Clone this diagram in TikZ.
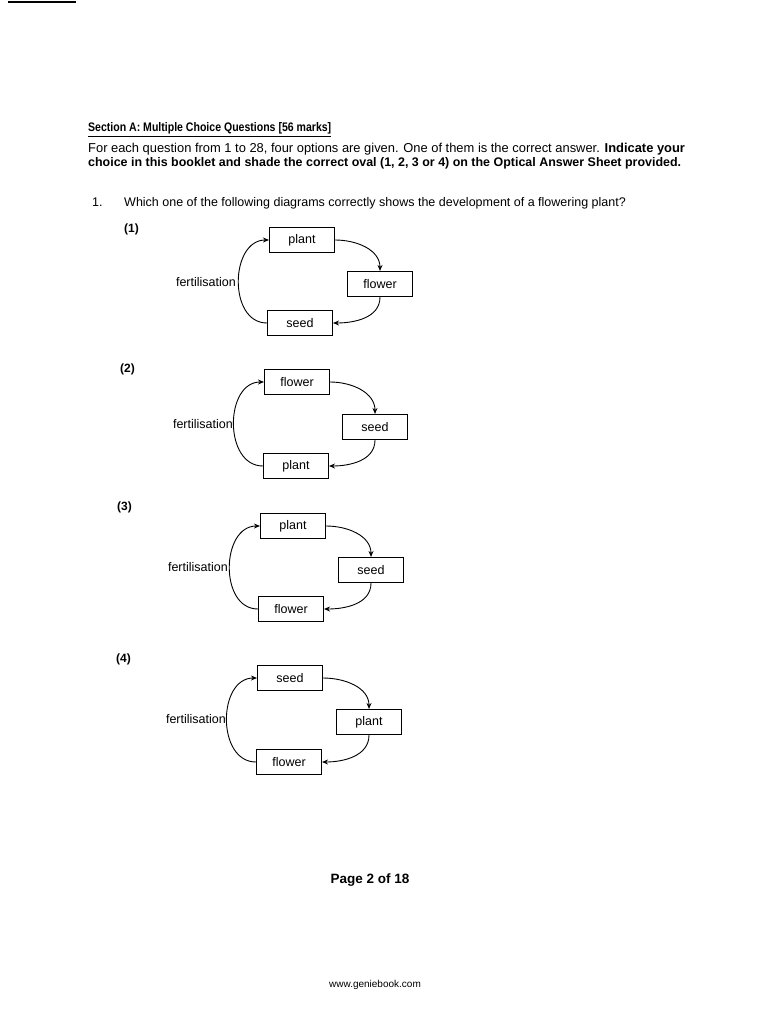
\documentclass[tikz,border=0pt]{standalone}
\usepackage{fontspec}
\usepackage{graphicx}
\setmainfont{Liberation Sans}
\usetikzlibrary{arrows.meta}
\begin{document}
\begin{tikzpicture}[x=1pt,y=-1pt,
  stagebox/.style={draw,line width=1.1pt,minimum width=65pt,minimum height=25pt,inner sep=0pt,font=\fontsize{12.5}{14}\selectfont},
  cyc/.style={line width=0.9pt,-{Stealth[length=6pt,width=5pt]}},
  txt/.style={inner sep=0pt,anchor=base west,font=\fontsize{12.5}{14}\selectfont},
  fert/.style={inner sep=0pt,anchor=east,font=\fontsize{12.5}{14}\selectfont},
  optlbl/.style={inner sep=0pt,anchor=base west,font=\bfseries\fontsize{12}{14}\selectfont}]
\useasboundingbox[fill=white] (0,0) rectangle (768,1024);
\draw[line width=2.5pt] (8,2) -- (76,2);
% header
\node[txt,font=\bfseries\fontsize{12.4}{14}\selectfont] (title) at (88,132) {\scalebox{0.85}[1]{\underline{Section A: Multiple Choice Questions [56 marks]}}};
\node[txt,font=\fontsize{12.9}{14}\selectfont] (l2) at (88,153) {For each question from 1 to 28, four options are given. One of them is the correct answer. \textbf{Indicate your}};
\node[txt,font=\bfseries\fontsize{12.45}{14}\selectfont] (l3) at (88,167) {choice in this booklet and shade the correct oval (1, 2, 3 or 4) on the Optical Answer Sheet provided.};
\node[txt] (qn) at (92,207) {1.};
\node[txt] (q) at (124,207) {Which one of the following diagrams correctly shows the development of a flowering plant?};
% option 1
\node[optlbl] (o1) at (124,233) {(1)};
\node[stagebox] (a1) at (302,240) {plant};
\node[stagebox] (b1) at (380,284) {flower};
\node[stagebox] (c1) at (300,323) {seed};
\node[fert] (f1) at (236,282) {fertilisation};
\draw[cyc] (a1.east) to[out=0,in=90] (b1.north);
\draw[cyc] (b1.south) to[out=-90,in=0] (c1.east);
\draw[cyc] (c1.west) to[out=180,in=180,looseness=1.2] (a1.west);
% option 2
\node[optlbl] (o2) at (120,372) {(2)};
\node[stagebox] (a2) at (297,382) {flower};
\node[stagebox] (b2) at (375,427) {seed};
\node[stagebox] (c2) at (296,466) {plant};
\node[fert] (f2) at (233,424) {fertilisation};
\draw[cyc] (a2.east) to[out=0,in=90] (b2.north);
\draw[cyc] (b2.south) to[out=-90,in=0] (c2.east);
\draw[cyc] (c2.west) to[out=180,in=180,looseness=1.2] (a2.west);
% option 3
\node[optlbl] (o3) at (117,510) {(3)};
\node[stagebox] (a3) at (293,526) {plant};
\node[stagebox] (b3) at (371,570) {seed};
\node[stagebox] (c3) at (291,609) {flower};
\node[fert] (f3) at (228,567) {fertilisation};
\draw[cyc] (a3.east) to[out=0,in=90] (b3.north);
\draw[cyc] (b3.south) to[out=-90,in=0] (c3.east);
\draw[cyc] (c3.west) to[out=180,in=180,looseness=1.2] (a3.west);
% option 4
\node[optlbl] (o4) at (116,662) {(4)};
\node[stagebox] (a4) at (290,678) {seed};
\node[stagebox] (b4) at (369,722) {plant};
\node[stagebox] (c4) at (289,762) {flower};
\node[fert] (f4) at (226,719) {fertilisation};
\draw[cyc] (a4.east) to[out=0,in=90] (b4.north);
\draw[cyc] (b4.south) to[out=-90,in=0] (c4.east);
\draw[cyc] (c4.west) to[out=180,in=180,looseness=1.2] (a4.west);
% footer
\node[inner sep=0pt,font=\bfseries\fontsize{13.5}{15}\selectfont] (pg) at (370,880) {Page 2 of 18};
\node[inner sep=0pt,font=\fontsize{10}{12}\selectfont] (web) at (375,985) {www.geniebook.com};
\end{tikzpicture}
\end{document}
